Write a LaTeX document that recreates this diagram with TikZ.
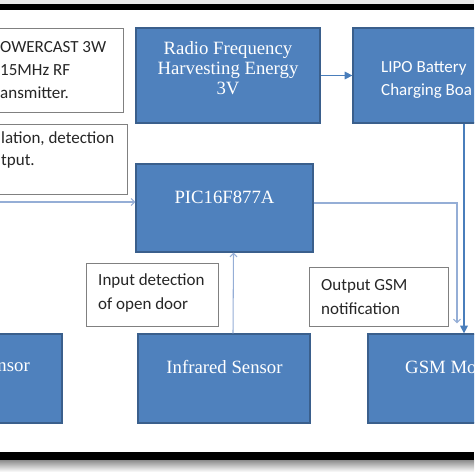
\documentclass[tikz,border=0pt]{standalone}
\usepackage{fontspec}
\setmainfont{Liberation Serif}
\newfontfamily\notefont{Carlito}
\usetikzlibrary{arrows.meta,fit}
\definecolor{blockblue}{HTML}{4F81BD}
\definecolor{blockedge}{HTML}{3A5F8C}
\definecolor{wirelight}{HTML}{95AED6}
\definecolor{wiredark}{HTML}{4A7EBB}
\definecolor{noteedge}{HTML}{808080}
\tikzset{
  block/.style={draw=blockedge,fill=blockblue,line width=1.1pt,inner sep=0pt},
  note/.style={draw=noteedge,fill=white,line width=0.8pt,inner sep=0pt},
  blocktext/.style={text=white,font=\fontsize{16}{17}\selectfont,align=center,inner sep=0pt},
  notetext/.style={text=black!85,font=\notefont\fontsize{14.5}{20}\selectfont,align=left,anchor=west,inner sep=0pt},
  wire/.style={draw=wirelight,line width=0.9pt,-{Straight Barb[length=3pt,width=6pt]}},
  feed/.style={draw=wiredark,line width=1.1pt,-{Triangle[length=6.5pt,width=6.5pt]}}
}
\begin{document}
\begin{tikzpicture}[x=0.3mm,y=-0.3mm]
  \useasboundingbox (0,0) rectangle (474,474);
  \clip (0,0) rectangle (474,474);
  \fill[black!8] (0,0) rectangle (474,4);
  \fill[black] (0,4) rectangle (474,10);
  \shade[top color=black!45,bottom color=white] (0,460) rectangle (474,472);
  \fill[black] (0,452) rectangle (474,460);

  \node[note,fit={(-60,28) (123,112)}] (tx) {};
  \node[block,fit={(136,28) (320,123)}] (rf) {};
  \node[block,fit={(353,28) (575,123)}] (lipo) {};
  \node[note,fit={(-60,124) (127,194)}] (mod) {};
  \node[block,fit={(136,164) (313,252)}] (pic) {};
  \node[note,fit={(86,263) (218,326)}] (indet) {};
  \node[note,fit={(309,267) (448,326)}] (outgsm) {};
  \node[block,fit={(-120,334) (62,423)}] (door) {};
  \node[block,fit={(138,334) (310,423)}] (ir) {};
  \node[block,fit={(368,334) (560,423)}] (gsm) {};

  \node[notetext] (txlabel) at (0,70) {OWERCAST 3W\\15MHz RF\\ansmitter.};
  \node[blocktext] (rflabel) at (228,68) {Radio Frequency\\Harvesting Energy\\3V};
  \node[notetext,text=white] (lipolabel) at (381,80) {LIPO Battery\\Charging Boa};
  \node[notetext,font=\notefont\fontsize{14.5}{18}\selectfont] (modlabel) at (1,150) {lation, detection\\tput.};
  \node[blocktext] (piclabel) at (224.5,197) {PIC16F877A};
  \node[notetext] (indetlabel) at (98,293) {Input detection\\of open door};
  \node[notetext] (outgsmlabel) at (321,297) {Output GSM\\notification};
  \node[blocktext,anchor=east] (doorlabel) at (30,367) {nsor};
  \node[blocktext] (irlabel) at (224.5,367) {Infrared Sensor};
  \node[blocktext,anchor=west] (gsmlabel) at (405,367) {GSM Mo};

  \coordinate (src) at (-5,202);
  \draw[feed] (rf.east) -- (lipo.west);
  \draw[wire] (src) -- (src -| pic.west);
  \draw[wire] ([yshift=1.5mm]pic.east) -| ([xshift=-2.1mm,yshift=3mm]gsm.north);
  \draw[feed] (lipo.south) -- (gsm.north);
  \draw[wire] ([xshift=2.7mm]ir.north) -- ([xshift=2.7mm]pic.south);
\end{tikzpicture}
\end{document}
